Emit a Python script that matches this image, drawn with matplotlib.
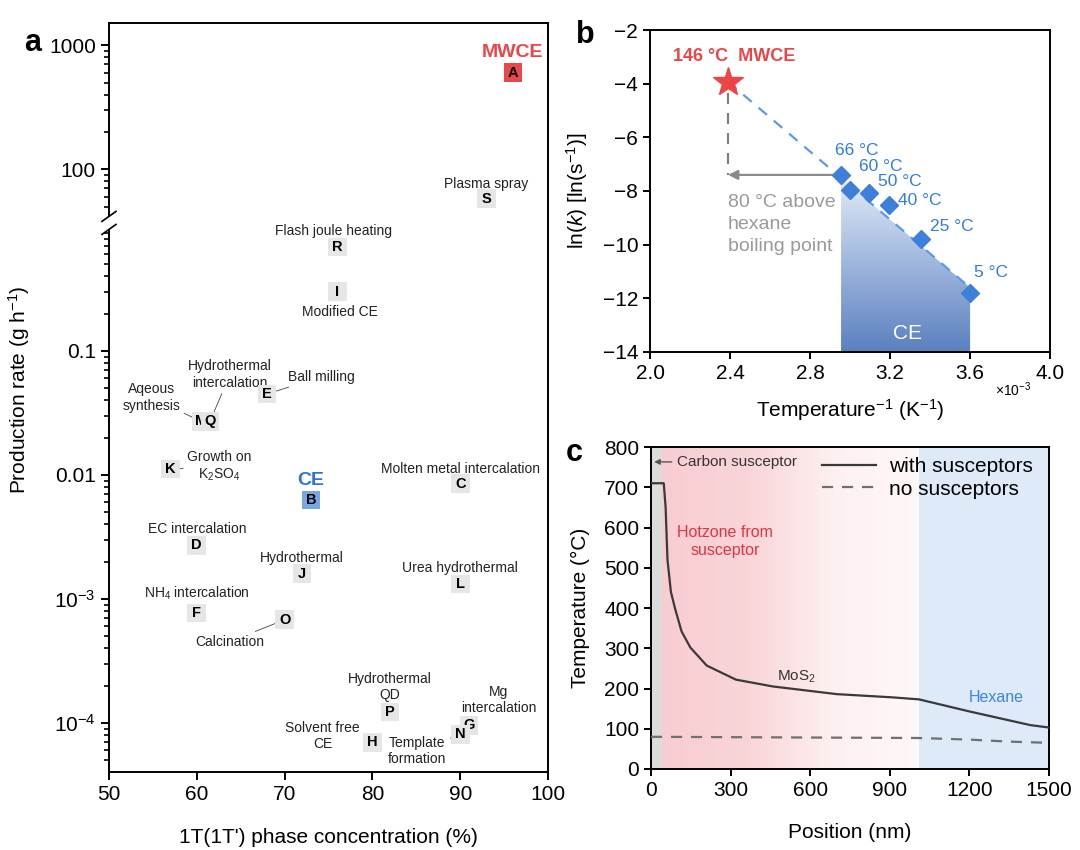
import numpy as np
import matplotlib
matplotlib.use('Agg')
import matplotlib.pyplot as plt
from matplotlib.colors import LinearSegmentedColormap
from matplotlib.patches import Polygon
from matplotlib.ticker import FixedLocator, FixedFormatter, NullFormatter

plt.rcParams['font.family'] = ['Liberation Sans', 'DejaVu Sans']
plt.rcParams['mathtext.fontset'] = 'custom'
plt.rcParams['mathtext.rm'] = 'Liberation Sans'
plt.rcParams['mathtext.it'] = 'Liberation Sans:italic'
plt.rcParams['mathtext.bf'] = 'Liberation Sans:bold'
plt.rcParams['axes.linewidth'] = 1.4

##DATA##########################################################################
# panel a : production rate vs 1T phase concentration
a_ids = ['A', 'S', 'R', 'I', 'E', 'M', 'Q', 'K', 'B', 'C', 'D', 'J', 'L', 'F',
         'O', 'P', 'G', 'N', 'H']
a_phase = [96, 93, 76, 76, 68, 60.5, 61.5, 57, 73, 90, 60, 72, 90, 60,
           70, 82, 91, 90, 80]
a_rate = [600, 58, 0.69, 0.30, 0.045, 0.027, 0.027, 0.0112, 0.0063, 0.0085,
          0.0027, 0.0016, 0.00132, 7.7e-4, 6.8e-4, 1.23e-4, 9.6e-5, 8.1e-5, 7.0e-5]
a_names = ['MWCE', 'Plasma spray', 'Flash joule heating', 'Modified CE', 'Ball milling',
           'Aqeous\nsynthesis', 'Hydrothermal\nintercalation', 'Growth on\nK$_2$SO$_4$',
           'CE', 'Molten metal intercalation', 'EC intercalation', 'Hydrothermal',
           'Urea hydrothermal', 'NH$_4$ intercalation', 'Calcination', 'Hydrothermal\nQD',
           'Mg\nintercalation', 'Template\nformation', 'Solvent free\nCE']

# panel b : Arrhenius plot
b_invT = [2.955, 3.00, 3.095, 3.195, 3.355, 3.60]
b_lnk = [-7.39, -7.95, -8.09, -8.53, -9.80, -11.80]
b_temps = ['66 °C', '60 °C', '50 °C', '40 °C', '25 °C', '5 °C']
mw_invT = 2.39
mw_lnk = -3.93
fit_x = [2.39, 3.60]
fit_y = [-3.93, -11.6]
hold_lnk = -7.4

# panel c : temperature profile
c_pos = [0, 48, 55, 62, 75, 90, 115, 148, 210, 320, 460, 700, 910, 1010, 1200, 1430, 1500]
c_with = [710, 710, 650, 520, 440, 400, 342, 302, 257, 222, 205, 186, 178, 173, 143, 109, 103]
c_pos_no = [0, 1010, 1200, 1350, 1500]
c_no = [80, 77, 73, 68, 65]
carbon_end = 43
hexane_start = 1010
################################################################################

fig = plt.figure(figsize=(10.8, 8.5), dpi=100)

# ---------------- panel a -----------------
ax = fig.add_axes([0.1009, 0.0918, 0.4065, 0.8812])

BRK_LO, BRK_HI, SHIFT = 0.0, 1.6, 1.535


def fwd(y):
    L = np.log10(np.clip(y, 1e-12, None))
    return np.where(L <= BRK_LO, L,
                    np.where(L >= BRK_HI, L - SHIFT, L * (BRK_HI - SHIFT) / BRK_HI))


def inv(f):
    top = BRK_HI - SHIFT
    L = np.where(f <= 0, f, np.where(f >= top, f + SHIFT, f * BRK_HI / top))
    return 10 ** L


ax.set_yscale('function', functions=(fwd, inv))
ymin, ymax = 10 ** -4.395, 10 ** 3.18
ax.set_ylim(ymin, ymax)
ax.set_xlim(50, 100)

majors = [1e-4, 1e-3, 1e-2, 1e-1, 1e2, 1e3]
ax.yaxis.set_major_locator(FixedLocator(majors))
ax.yaxis.set_major_formatter(FixedFormatter(['$10^{-4}$', '$10^{-3}$', '0.01', '0.1', '100', '1000']))
minors = [k * 10.0 ** d for d in range(-5, 0) for k in range(2, 10)]
minors = [m for m in minors if m > ymin]
minors += [k * 10.0 for k in range(5, 10)] + [k * 100.0 for k in range(2, 10)]
ax.yaxis.set_minor_locator(FixedLocator(minors))
ax.yaxis.set_minor_formatter(NullFormatter())
ax.set_xticks([50, 60, 70, 80, 90, 100])
ax.tick_params(axis='both', which='major', direction='out', length=6, width=1.4, labelsize=15)
ax.tick_params(axis='y', which='minor', direction='out', length=3.5, width=1.2)

colors = []
for i in a_ids:
    if i == 'A':
        colors.append('#e8474c')
    elif i == 'B':
        colors.append('#76a6e6')
    else:
        colors.append('#e6e6e6')

# label offsets in pixels and leader-line flags
offsets = [(0, 20), (0, 15), (-4, 16), (3, -20), (54, 17), (-50, 24), (20, 47), (49, 2),
           (0, 19), (0, 15), (0, 16), (0, 16), (0, 16), (0, 20), (-55, -22), (0, 25),
           (30, 25), (-43, -17), (-50, 6)]
leaders = ['E', 'M', 'Q', 'K', 'O', 'G', 'N']

for k, (lbl, x, y, name) in enumerate(zip(a_ids, a_phase, a_rate, a_names)):
    ax.scatter([x], [y], marker='s', s=180, color=colors[k], edgecolors='none', zorder=3 + 0.1 * k)
    ax.text(x, y, lbl, ha='center', va='center', fontsize=10.5, fontweight='bold',
            color='black', zorder=3.05 + 0.1 * k)
    kw = dict(ha='center', va='center', fontsize=10, color='#222222')
    if lbl == 'A':
        kw.update(fontsize=14, fontweight='bold', color='#ee4448')
    if lbl == 'B':
        kw.update(fontsize=14, fontweight='bold', color='#2a74e0')
    if lbl in leaders:
        kw['arrowprops'] = dict(arrowstyle='-', color='#444444', lw=0.6, shrinkA=1, shrinkB=7)
    ax.annotate(name, xy=(x, y), xytext=offsets[k], textcoords='offset pixels', **kw)

# axis break on the left spine
f0, f1 = float(fwd(ymin)), float(fwd(ymax))
fr_lo = (-0.02 - f0) / (f1 - f0)
fr_hi = (0.085 - f0) / (f1 - f0)
ax.plot([0, 0], [fr_lo, fr_hi], color='white', lw=4, transform=ax.transAxes,
        clip_on=False, zorder=10, solid_capstyle='butt')
dx, dy = 7 / 439, 5 / 749
for fr in (fr_lo, fr_hi):
    ax.plot([-dx, dx], [fr - dy, fr + dy], color='black', lw=1.2, transform=ax.transAxes,
            clip_on=False, zorder=11)

ax.set_xlabel("1T(1T') phase concentration (%)", fontsize=15)
ax.xaxis.set_label_coords(0.5, -0.075)
ax.set_ylabel('Production rate (g h$^{-1}$)', fontsize=15)
ax.yaxis.set_label_coords(-0.175, 0.51)
fig.text(0.030, 0.949, 'a', fontsize=22, fontweight='bold', ha='center', va='center')

# ---------------- panel b -----------------
axb = fig.add_axes([0.6019, 0.5859, 0.3704, 0.3788])
axb.set_xlim(2.0, 4.0)
axb.set_ylim(-14, -2)
axb.set_xticks([2.0, 2.4, 2.8, 3.2, 3.6, 4.0])
axb.set_yticks([-14, -12, -10, -8, -6, -4, -2])
axb.xaxis.set_major_formatter(matplotlib.ticker.FormatStrFormatter('%.1f'))
axb.tick_params(direction='out', length=5, width=1.4, labelsize=15)

slope = (fit_y[1] - fit_y[0]) / (fit_x[1] - fit_x[0])


def fit_line(x):
    return fit_y[0] + slope * (x - fit_x[0])


x_lo, x_hi = b_invT[0], b_invT[-1]
poly = Polygon([[x_lo, -14], [x_lo, fit_line(x_lo)], [x_hi, fit_line(x_hi)], [x_hi, -14]],
               closed=True, facecolor='none', edgecolor='none')
axb.add_patch(poly)
cmap_b = LinearSegmentedColormap.from_list('ce', ['#5a80bf', '#e3ecf9'])
im = axb.imshow(np.linspace(0, 1, 256).reshape(-1, 1), extent=[x_lo, x_hi, -14, fit_line(x_lo)],
                origin='lower', cmap=cmap_b, aspect='auto', zorder=1)
im.set_clip_path(poly)
axb.set_xlim(2.0, 4.0)
axb.set_ylim(-14, -2)

axb.plot(fit_x, fit_y, color='#5b9be8', lw=1.6, dashes=(5, 4), zorder=2)
axb.plot([mw_invT, mw_invT], [mw_lnk - 0.4, hold_lnk], color='#808080', lw=1.6,
         dashes=(5, 4), zorder=2)
axb.annotate('', xy=(mw_invT, hold_lnk), xytext=(b_invT[0], hold_lnk),
             arrowprops=dict(arrowstyle='-|>', color='#8a8a8a', lw=1.6, mutation_scale=14,
                             shrinkA=0, shrinkB=0), zorder=2)
axb.plot(b_invT, b_lnk, 'D', color='#3d7fd9', ms=9.5, zorder=4, clip_on=False)
axb.plot([mw_invT], [mw_lnk], '*', color='#ee4448', ms=22, zorder=5)

temp_off = [(16, 24), (31, 23), (31, 12), (31, 5), (31, 13), (21, 20)]
for x, y, t, o in zip(b_invT, b_lnk, b_temps, temp_off):
    axb.annotate(t, xy=(x, y), xytext=o, textcoords='offset pixels', ha='center',
                 va='center', fontsize=12.5, color='#2f7de1')
axb.text(2.115, -3.0, '146 °C  MWCE', ha='left', va='center', fontsize=13,
         fontweight='bold', color='#ee4448')
axb.text(2.39, -9.25, '80 °C above\nhexane\nboiling point', ha='left', va='center',
         fontsize=14, color='#9a9a9a', linespacing=1.4)
axb.text(3.285, -13.3, 'CE', ha='center', va='center', fontsize=15, color='white', zorder=3)
axb.text(0.9075, -0.118, '×10$^{-3}$', transform=axb.transAxes, ha='center', va='center',
         fontsize=10)
axb.set_xlabel('Temperature$^{-1}$ (K$^{-1}$)', fontsize=15)
axb.xaxis.set_label_coords(0.5, -0.14)
axb.set_ylabel('ln($k$) [ln(s$^{-1}$)]', fontsize=15)
axb.yaxis.set_label_coords(-0.15, 0.5)
fig.text(0.5417, 0.9588, 'b', fontsize=22, fontweight='bold', ha='center', va='center')

# ---------------- panel c -----------------
axc = fig.add_axes([0.6028, 0.0953, 0.3685, 0.3788])
axc.set_xlim(0, 1500)
axc.set_ylim(0, 800)
axc.set_xticks([0, 300, 600, 900, 1200, 1500])
axc.set_yticks(range(0, 801, 100))
axc.tick_params(direction='out', length=5, width=1.4, labelsize=15)

axc.axvspan(0, carbon_end, color='#dcdcdc', lw=0, zorder=0)
axc.axvspan(hexane_start, 1500, color='#deeaf8', lw=0, zorder=0)
cmap_c = LinearSegmentedColormap.from_list('hz', ['#f8cdd1', '#f9d5d8', '#fdf0f0', '#fff8f8'])
axc.imshow(np.linspace(0, 1, 256).reshape(1, -1), extent=[carbon_end, hexane_start, 0, 800],
           cmap=cmap_c, aspect='auto', zorder=0)
axc.set_xlim(0, 1500)
axc.set_ylim(0, 800)

axc.plot(c_pos, c_with, color='#3a3a3a', lw=1.6, label='with susceptors', zorder=3)
axc.plot(c_pos_no, c_no, color='#707070', lw=1.6, dashes=(5, 4), label='no susceptors', zorder=3)
leg = axc.legend(loc='upper right', frameon=False, fontsize=15, handlelength=2.6,
                 labelspacing=0.15, borderaxespad=0.1, handletextpad=0.6,
                 bbox_to_anchor=(0.985, 1.0))

axc.annotate('Carbon susceptor', xy=(12, 763), xytext=(99, 763), ha='left', va='center',
             fontsize=11, color='#333333',
             arrowprops=dict(arrowstyle='-|>', color='#555555', lw=1, mutation_scale=8,
                             shrinkA=2, shrinkB=0))
axc.text(279, 565, 'Hotzone from\nsusceptor', ha='center', va='center', fontsize=11.5,
         color='#e5333f')
axc.text(549, 230, 'MoS$_2$', ha='center', va='center', fontsize=11, color='#333333')
axc.text(1300, 178, 'Hexane', ha='center', va='center', fontsize=11.5, color='#3a86e8')
axc.set_xlabel('Position (nm)', fontsize=15)
axc.xaxis.set_label_coords(0.5, -0.168)
axc.set_ylabel('Temperature (°C)', fontsize=15)
axc.yaxis.set_label_coords(-0.153, 0.5)
fig.text(0.532, 0.467, 'c', fontsize=22, fontweight='bold', ha='center', va='center')

fig.savefig('out.png', dpi=100)
